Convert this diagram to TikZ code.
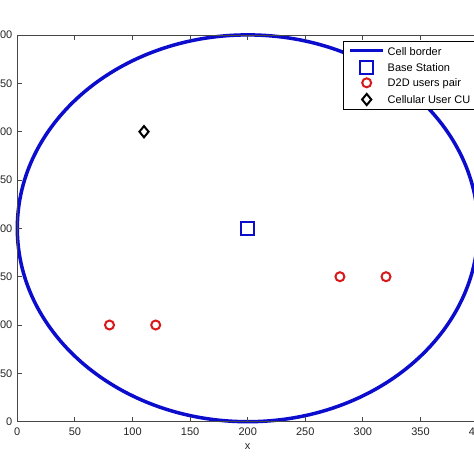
\documentclass[tikz,border=0pt]{standalone}
\usepackage{fontspec}
\setmainfont{Liberation Sans}
\usetikzlibrary{shapes.geometric}
\definecolor{cellblue}{RGB}{12,12,205}
\definecolor{d2dred}{RGB}{215,25,25}
\definecolor{axisgray}{RGB}{70,70,70}
\begin{document}
\begin{tikzpicture}[x=1pt,y=-1pt,
 axisline/.style={draw=axisgray, line width=1pt},
 ticklbl/.style={font=\fontsize{11}{13}\selectfont, text=black!85, inner sep=0pt},
 leglbl/.style={font=\fontsize{11}{13}\selectfont, text=black, inner sep=0pt, anchor=west},
 border/.style={draw=cellblue, line width=3.5pt},
 bsmark/.style={draw=cellblue, rectangle, minimum size=13pt, line width=2pt, inner sep=0pt},
 d2dmark/.style={draw=d2dred, circle, minimum size=9pt, line width=2pt, inner sep=0pt},
 cumark/.style={draw=black, diamond, minimum width=10pt, minimum height=12pt, line width=2pt, inner sep=0pt},
]
\useasboundingbox (0,0) rectangle (474,474);
\clip (0,0) rectangle (474,474);
\fill[white] (0,0) rectangle (474,474);

% cell border (circle of radius 200 around (200,200) in data units)
\draw[border] (247.7,228.3) ellipse [x radius=230.4, y radius=193.4];

% axes box
\draw[axisline] (17.3,35) rectangle (478.1,421.7);
% x ticks and labels
\foreach \v/\px in {0/17.3,50/74.9,100/132.5,150/190.1,200/247.7,250/305.3,300/362.9,350/420.5,400/478.1}{
  \draw[axisline] (\px,421.7) -- ++(0,-4.5);
  \draw[axisline] (\px,35) -- ++(0,4.5);
  \node[ticklbl] (xl\v) at (\px,431.5) {\v};
}
% y ticks and labels
\foreach \v/\py in {0/421.7,50/373.4,100/325.0,150/276.7,200/228.3,250/180.0,300/131.7,350/83.3,400/35.0}{
  \draw[axisline] (17.3,\py) -- ++(4.5,0);
  \draw[axisline] (478.1,\py) -- ++(-4.5,0);
  \node[ticklbl, anchor=east] (yl\v) at (12.5,\py) {\v};
}
\node[ticklbl] (xlabel) at (247.7,446.5) {x};

% data markers
\node[bsmark] (bs) at (247.7,228.3) {};
\node[d2dmark] (d1) at (109.5,325.0) {};
\node[d2dmark] (d2) at (155.7,325.0) {};
\node[d2dmark] (d3) at (339.9,276.7) {};
\node[d2dmark] (d4) at (386.0,276.7) {};
\node[cumark] (cu) at (144.0,131.7) {};

% legend
\draw[draw=black, fill=white, line width=0.8pt] (343.3,41.7) rectangle (480,109);
\coordinate (legA) at (350,50.7);
\coordinate (legB) at (383,50.7);
\draw[border] (legA) -- (legB);
\node[bsmark] (legbs) at (366.7,67.3) {};
\node[d2dmark] (legd2d) at (366.7,82.8) {};
\node[cumark] (legcu) at (366.7,99.5) {};
\node[leglbl] (t1) at (387.5,51.5) {Cell border};
\node[leglbl] (t2) at (387.5,67.5) {Base Station};
\node[leglbl] (t3) at (387.5,83.5) {D2D users pair};
\node[leglbl] (t4) at (387.5,99.5) {Cellular User CU};
\end{tikzpicture}
\end{document}
